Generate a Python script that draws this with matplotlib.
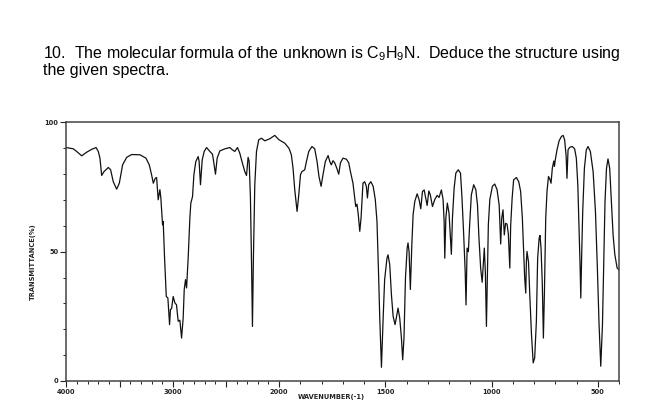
# IR spectrum of the C9H9N unknown, redrawn from the worksheet picture
import numpy as np
import matplotlib
matplotlib.use("Agg")
import matplotlib.pyplot as plt
from matplotlib.ticker import FixedLocator

plt.rcParams['font.family'] = 'Liberation Sans'
plt.rcParams['mathtext.fontset'] = 'custom'
plt.rcParams['mathtext.rm'] = 'Liberation Sans'
plt.rcParams['mathtext.it'] = 'Liberation Sans'
plt.rcParams['mathtext.default'] = 'rm'

# spectrum (cm-1, %T)
wavenumber = [
    4000, 3936, 3905, 3857, 3810, 3763, 3722, 3701, 3685, 3669, 3647, 3606, 3585, 3560,
    3528, 3503, 3472, 3434, 3387, 3309, 3252, 3221, 3199, 3183, 3165, 3152, 3137, 3121,
    3112, 3096, 3090, 3077, 3061, 3046, 3030, 3022, 3011, 2996, 2980, 2965, 2949, 2933,
    2917, 2902, 2892, 2880, 2870, 2855, 2839, 2830, 2814, 2801, 2783, 2761, 2752, 2739,
    2723, 2704, 2682, 2651, 2626, 2612, 2598, 2582, 2557, 2510, 2463, 2438, 2416, 2391,
    2369, 2344, 2322, 2306, 2291, 2281, 2269, 2259, 2250, 2241, 2228, 2212, 2191, 2165,
    2134, 2087, 2040, 2000, 1973, 1953, 1942, 1934, 1926, 1915, 1907, 1899, 1892, 1879,
    1871, 1860, 1845, 1832, 1821, 1812, 1802, 1793, 1782, 1769, 1761, 1754, 1746, 1738,
    1729, 1719, 1711, 1699, 1683, 1672, 1664, 1652, 1639, 1633, 1627, 1620, 1614, 1605,
    1597, 1589, 1584, 1578, 1568, 1557, 1547, 1539, 1531, 1526, 1518, 1510, 1503, 1492,
    1487, 1479, 1471, 1463, 1454, 1448, 1440, 1432, 1424, 1418, 1412, 1405, 1397, 1393,
    1388, 1382, 1375, 1369, 1361, 1350, 1341, 1333, 1325, 1317, 1310, 1303, 1295, 1288,
    1278, 1267, 1256, 1247, 1236, 1228, 1223, 1220, 1215, 1208, 1200, 1194, 1189, 1184,
    1176, 1168, 1157, 1146, 1139, 1131, 1124, 1120, 1115, 1109, 1103, 1095, 1084, 1074,
    1066, 1059, 1051, 1044, 1039, 1034, 1029, 1024, 1019, 1015, 1008, 996, 985, 974,
    964, 957, 952, 946, 940, 934, 927, 921, 914, 910, 903, 896, 883, 872,
    863, 855, 849, 844, 839, 836, 833, 826, 820, 812, 804, 797, 789, 783,
    776, 772, 767, 761, 756, 751, 745, 739, 732, 726, 720, 714, 707, 704,
    700, 692, 682, 671, 663, 656, 649, 645, 640, 632, 620, 609, 601, 594,
    588, 583, 580, 576, 571, 563, 554, 546, 535, 522, 511, 502, 494, 486,
    478, 472, 466, 459, 452, 444, 436, 428, 420, 409, 400,
]
transmittance = [
    90.3, 89.8, 88.8, 87.1, 88.5, 89.6, 90.3, 88.8, 86.2, 79.5, 81.0, 82.6, 81.7, 77.1,
    74.2, 76.5, 83.6, 86.5, 87.6, 87.5, 86.2, 83.6, 79.7, 76.5, 78.4, 78.7, 70.1, 74.0,
    70.8, 60.4, 61.7, 47.5, 32.7, 32.1, 21.8, 27.6, 28.0, 32.7, 30.2, 29.5, 23.1, 23.5,
    16.6, 24.4, 35.4, 39.2, 36.0, 47.5, 63.0, 68.8, 71.3, 79.8, 84.9, 86.8, 85.0, 75.9,
    85.5, 88.8, 90.3, 88.8, 87.7, 84.0, 80.0, 86.2, 89.0, 89.8, 90.3, 89.4, 88.8, 90.3,
    88.1, 84.2, 81.0, 79.5, 86.5, 85.0, 70.9, 46.3, 21.1, 47.5, 75.9, 88.8, 93.3, 93.9,
    92.9, 93.7, 95.0, 93.3, 92.0, 90.0, 87.5, 82.3, 74.0, 65.6, 72.0, 79.8, 81.0, 81.7,
    84.9, 88.8, 90.7, 89.8, 84.9, 79.1, 75.3, 79.8, 84.9, 87.2, 84.9, 83.6, 85.2, 84.4,
    82.5, 80.0, 84.4, 86.2, 85.8, 84.4, 81.0, 76.5, 67.5, 68.4, 64.3, 57.9, 63.0, 76.5,
    77.1, 75.3, 70.8, 76.0, 77.1, 75.3, 70.2, 61.7, 39.8, 24.4, 5.3, 24.4, 39.2, 47.5,
    48.8, 45.0, 33.3, 25.0, 21.8, 24.4, 28.2, 24.4, 16.6, 8.2, 16.6, 39.8, 51.4, 53.4,
    50.0, 35.4, 52.8, 64.4, 69.5, 72.4, 70.2, 66.6, 73.3, 73.9, 71.0, 67.9, 73.5, 72.0,
    67.5, 70.2, 71.8, 71.0, 73.9, 70.2, 61.7, 47.5, 63.0, 68.8, 64.9, 56.5, 49.0, 63.0,
    74.6, 80.4, 81.7, 80.4, 70.8, 56.5, 42.3, 29.4, 51.4, 50.0, 60.4, 72.0, 75.9, 74.0,
    68.0, 55.0, 43.4, 38.2, 45.0, 51.4, 42.0, 21.1, 43.4, 60.4, 70.2, 75.3, 76.2, 74.0,
    68.0, 53.0, 63.0, 66.2, 56.5, 61.0, 60.7, 57.0, 43.7, 60.0, 70.8, 77.8, 78.7, 77.1,
    73.3, 63.0, 50.1, 39.8, 34.0, 46.2, 50.1, 46.0, 33.3, 17.9, 7.0, 8.9, 23.1, 47.5,
    55.2, 56.3, 51.3, 37.3, 16.6, 34.7, 63.0, 73.3, 79.1, 78.2, 76.5, 82.3, 85.1, 83.0,
    85.5, 89.4, 92.9, 94.6, 95.0, 93.3, 87.0, 78.4, 89.4, 90.4, 90.7, 89.8, 86.2, 75.9,
    59.0, 43.7, 32.1, 48.0, 65.5, 82.3, 89.4, 90.7, 88.8, 81.0, 65.5, 43.7, 21.8, 5.7,
    21.8, 46.2, 69.5, 82.3, 85.9, 82.3, 69.5, 56.5, 49.0, 43.7, 43.0,
]

x_major = [4000, 3500, 3000, 2500, 2000, 1500, 1000, 500]
x_labels = ['4000', '', '3000', '', '2000', '1500', '1000', '500']
x_minor = list(range(400, 4000, 100))
y_major = [0, 50, 100]
y_labels = ['0', '50', '100']
y_minor = list(range(0, 101, 10))


# the chart paper doubles its scale below 2000 cm-1
def fwd(w):
    w = np.asarray(w, dtype=float)
    return np.where(w >= 2000, w, 2 * w - 2000)


def inv(u):
    u = np.asarray(u, dtype=float)
    return np.where(u >= 2000, u, (u + 2000) / 2)


fig = plt.figure(figsize=(6.67, 4.2), dpi=100)
ax = fig.add_axes([0.0997, 0.0929, 0.8284, 0.6155])
ax.plot(wavenumber, transmittance, color='#111111', lw=0.9)

ax.set_xscale('function', functions=(fwd, inv))
ax.set_xlim(4000, 400)
ax.set_ylim(0, 100)

ax.xaxis.set_major_locator(FixedLocator(x_major))
ax.xaxis.set_minor_locator(FixedLocator(x_minor))
ax.set_xticklabels(x_labels, fontweight='bold')
ax.yaxis.set_major_locator(FixedLocator(y_major))
ax.yaxis.set_minor_locator(FixedLocator(y_minor))
ax.set_yticklabels(y_labels, fontweight='bold')

ax.tick_params(which='major', direction='out', length=4, width=0.8, pad=2,
               labelsize=4.8, labelfontfamily='DejaVu Sans', colors='#222222')
ax.tick_params(which='minor', direction='out', length=2.5, width=0.7, colors='#222222')
for s in ax.spines.values():
    s.set_color('#444444')
    s.set_linewidth(1.1)

fig.text(331.7 / 667, 1 - 397 / 420, 'WAVENUMBER(-1)', fontsize=4.8, fontweight='bold',
         family='DejaVu Sans', ha='center', va='center', color='#222222')
fig.text(33 / 667, 1 - 262 / 420, 'TRANSMITTANCE(%)', fontsize=4.8, fontweight='bold',
         family='DejaVu Sans', ha='center', va='center', rotation=90, color='#222222')

fig.text(43 / 667, 1 - 58 / 420,
         '10.  The molecular formula of the unknown is C$_{9}$H$_{9}$N.  Deduce the structure using',
         fontsize=11.5, va='baseline')
fig.text(43 / 667, 1 - 75 / 420, 'the given spectra.', fontsize=11.5, va='baseline')

fig.savefig('out.png', dpi=100, facecolor='white')
